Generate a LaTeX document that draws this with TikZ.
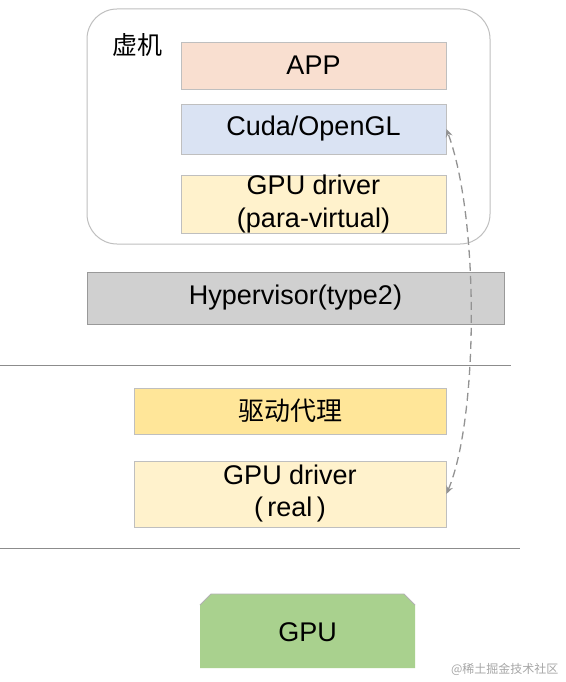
\documentclass[tikz,border=0pt]{standalone}
\usepackage{fontspec}
\setmainfont{Liberation Sans}
\newfontfamily\cjk{Noto Sans CJK SC}
\usetikzlibrary{arrows.meta}
\definecolor{peach}{HTML}{F9DFD0}
\definecolor{lblue}{HTML}{DAE3F3}
\definecolor{lyel}{HTML}{FFF2CC}
\definecolor{dyel}{HTML}{FFE699}
\definecolor{hgray}{HTML}{D0D0D0}
\definecolor{ggreen}{HTML}{A9D18E}
\definecolor{bord}{HTML}{BFBFBF}
\tikzset{
  layer/.style={draw=bord, line width=0.8pt, inner sep=0pt, font=\fontsize{27}{30}\selectfont, align=center},
  sep/.style={draw=gray!90, line width=1pt},
  link/.style={draw=gray!85, dashed, line width=1.3pt, dash pattern=on 8pt off 5pt, {Stealth[length=8pt,width=7pt]}-{Stealth[length=8pt,width=7pt]}}
}
\begin{document}
\begin{tikzpicture}[x=1pt,y=-1pt]
\useasboundingbox[fill=white] (0,0) rectangle (565,682);
% VM container
\node[draw=bord, line width=1pt, rounded corners=30pt, minimum width=403pt, minimum height=235pt, inner sep=0pt] (vm) at (288.5,126.5) {};
\node[font=\cjk\fontsize{25}{28}\selectfont, anchor=center] (vmlabel) at (137,45) {虚机};
\node[layer, fill=peach, minimum width=265pt, minimum height=47pt] (app) at (313.5,65.5) {APP};
\node[layer, fill=lblue, minimum width=265pt, minimum height=50pt] (cuda) at (313.5,129) {Cuda/OpenGL};
\node[layer, fill=lyel, minimum width=265pt, minimum height=56pt, font=\fontsize{27}{33}\selectfont] (pvd) at (313.5,204) {GPU driver\\(para-virtual)};
% hypervisor
\node[layer, draw=bord!80!black, fill=hgray, minimum width=417pt, minimum height=52pt] (hyp) at (295.5,298) {Hypervisor(type2)};
% separators
\coordinate (s1a) at (0,365); \coordinate (s1b) at (511,365);
\coordinate (s2a) at (0,548); \coordinate (s2b) at (520,548);
\draw[sep] (s1a) -- (s1b);
\draw[sep] (s2a) -- (s2b);
% host side
\node[layer, fill=dyel, minimum width=312pt, minimum height=46pt, font=\cjk\fontsize{26}{29}\selectfont] (proxy) at (290,411) {驱动代理};
\node[layer, fill=lyel, minimum width=312pt, minimum height=66pt, font=\fontsize{27}{32}\selectfont] (rd) at (290,494) {GPU driver\\(\,real\,)};
% GPU chamfered
\coordinate (g1) at (200,668); \coordinate (g2) at (200,605); \coordinate (g3) at (211,594);
\coordinate (g4) at (404,594); \coordinate (g5) at (415,605); \coordinate (g6) at (415,668);
\fill[ggreen] (g1) -- (g2) -- (g3) -- (g4) -- (g5) -- (g6) -- cycle;
\draw[gray!60, line width=0.8pt] (g2) -- (g3) -- (g4) -- (g5);
\node[font=\fontsize{27}{30}\selectfont] (gpu) at (307.5,632) {GPU};
% dashed link
\draw[link] (rd.east) .. controls (478,420) and (480,220) .. (cuda.east);
% watermark
\node[font=\cjk\fontsize{12}{14}\selectfont, text=gray!70, anchor=east] (wm) at (562,669) {@稀土掘金技术社区};
\end{tikzpicture}
\end{document}
